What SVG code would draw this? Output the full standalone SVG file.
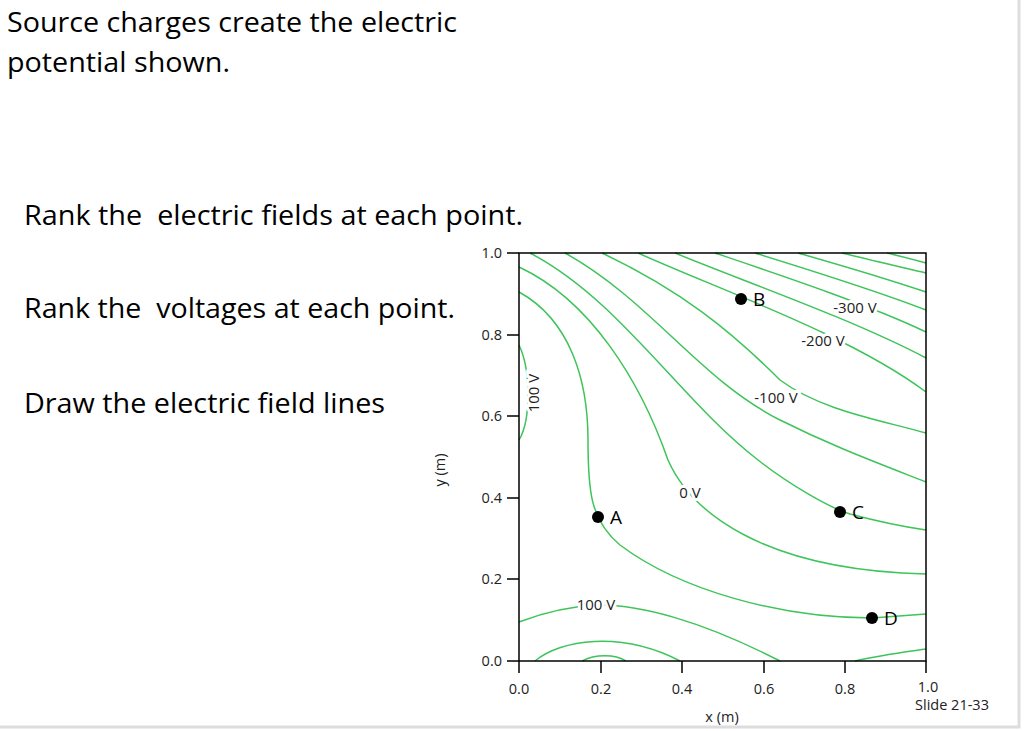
<svg xmlns="http://www.w3.org/2000/svg" width="1024" height="731" viewBox="0 0 1024 731">
<style>
.big{font-family:"Open Sans","Liberation Sans",sans-serif;font-size:27px;fill:#000;white-space:pre}
.ax{font-family:"Open Sans","Liberation Sans",sans-serif;font-size:14.5px;fill:#222}
.lbl{font-family:"Open Sans","Liberation Sans",sans-serif;font-size:15px;fill:#222;paint-order:stroke;stroke:#fff;stroke-width:6px}
.pt{font-family:"Open Sans","Liberation Sans",sans-serif;font-size:19px;fill:#000}
.c{fill:none;stroke:#3ec45a;stroke-width:1.5}
.k{stroke:#000;stroke-width:1.5;fill:none}
</style>
<rect width="1024" height="731" fill="#fff"/>
<path d="M1019,0 V727 H0" stroke="#ddd" stroke-width="3" fill="none"/>
<g id="text">
<text class="big" x="7" y="32" textLength="450" lengthAdjust="spacingAndGlyphs">Source charges create the electric</text>
<text class="big" x="7" y="72" textLength="223" lengthAdjust="spacingAndGlyphs">potential shown.</text>
<text class="big" x="24" y="225" textLength="499" lengthAdjust="spacingAndGlyphs" xml:space="preserve">Rank the  electric fields at each point.</text>
<text class="big" x="24" y="318" textLength="431" lengthAdjust="spacingAndGlyphs" xml:space="preserve">Rank the  voltages at each point.</text>
<text class="big" x="24" y="413" textLength="361" lengthAdjust="spacingAndGlyphs">Draw the electric field lines</text>
<text class="ax" x="952" y="710" text-anchor="middle" font-size="15">Slide 21-33</text>
</g>
<g id="contours">
<path class="c" d="M887,253 C900,256 915,260 926,263"/>
<path class="c" d="M842,253 C870,260 905,268 926,273"/>
<path class="c" d="M798,253 C840,265 890,280 926,292"/>
<path class="c" d="M755,253 C810,270 880,292 926,310"/>
<path class="c" d="M715,253 C780,275 870,305 926,332"/>
<path class="c" d="M675,253 C740,280 850,318 926,358"/>
<path class="c" d="M638,253 C720,290 850,335 926,392"/>
<path class="c" d="M602,253 C680,290 730,330 780,380 C820,410 880,420 926,433"/>
<path class="c" d="M565,253 C650,300 700,380 780,420 C830,445 870,460 926,482"/>
<path class="c" d="M530,253 C620,300 680,400 758,460 C790,485 830,508 850,514 C880,522 905,527 926,530"/>
<path class="c" d="M519,267 C590,300 640,380 668,460 C690,510 760,570 926,574"/>
<path class="c" d="M519,292 C570,320 588,380 588,440 C588,490 590,520 620,545 C680,590 780,618 872,618 L926,614"/>
<path class="c" d="M519,345 C531,370 531,420 519,440"/>
<path class="c" d="M519,622 C545,612 570,606 600,605 C640,605 700,620 780,661"/>
<path class="c" d="M855,661 C880,655 905,652 926,649"/>
<path class="c" d="M535,661 C560,640 620,630 680,661"/>
<path class="c" d="M582,661 C595,654 615,654 626,661"/>
</g>
<g id="axes">
<rect class="k" x="519" y="253" width="407" height="408"/>
<path class="k" d="M507,253H519M507,335H519M507,416H519M507,498H519M507,579H519M507,661H519M519,661V673M601,661V673M682,661V673M764,661V673M845,661V673M926,661V673"/>
<text class="ax" x="502" y="258" text-anchor="end">1.0</text>
<text class="ax" x="502" y="340" text-anchor="end">0.8</text>
<text class="ax" x="502" y="421" text-anchor="end">0.6</text>
<text class="ax" x="502" y="503" text-anchor="end">0.4</text>
<text class="ax" x="502" y="584" text-anchor="end">0.2</text>
<text class="ax" x="502" y="666" text-anchor="end">0.0</text>
<text class="ax" x="519" y="694" text-anchor="middle">0.0</text>
<text class="ax" x="601" y="694" text-anchor="middle">0.2</text>
<text class="ax" x="682" y="694" text-anchor="middle">0.4</text>
<text class="ax" x="764" y="694" text-anchor="middle">0.6</text>
<text class="ax" x="845" y="694" text-anchor="middle">0.8</text>
<text class="ax" x="928" y="692" text-anchor="middle">1.0</text>
<text class="ax" x="722" y="722" text-anchor="middle">x (m)</text>
<text class="ax" x="445" y="470" text-anchor="middle" transform="rotate(-90 445 470)">y (m)</text>
</g>
<g id="labels">
<text class="lbl" x="855" y="313" text-anchor="middle">-300 V</text>
<text class="lbl" x="823" y="346" text-anchor="middle">-200 V</text>
<text class="lbl" x="776" y="403" text-anchor="middle">-100 V</text>
<text class="lbl" x="690" y="498" text-anchor="middle">0 V</text>
<text class="lbl" x="596" y="610" text-anchor="middle">100 V</text>
<text class="lbl" x="539" y="393" text-anchor="middle" transform="rotate(-90 539 393)">100 V</text>
</g>
<g id="A"><circle cx="598" cy="517" r="6"/><text class="pt" x="610" y="524">A</text></g>
<g id="B"><circle cx="741" cy="299" r="6"/><text class="pt" x="753" y="306">B</text></g>
<g id="C"><circle cx="840" cy="512" r="6"/><text class="pt" x="852" y="519">C</text></g>
<g id="D"><circle cx="872" cy="618" r="6"/><text class="pt" x="884" y="625">D</text></g>
</svg>
